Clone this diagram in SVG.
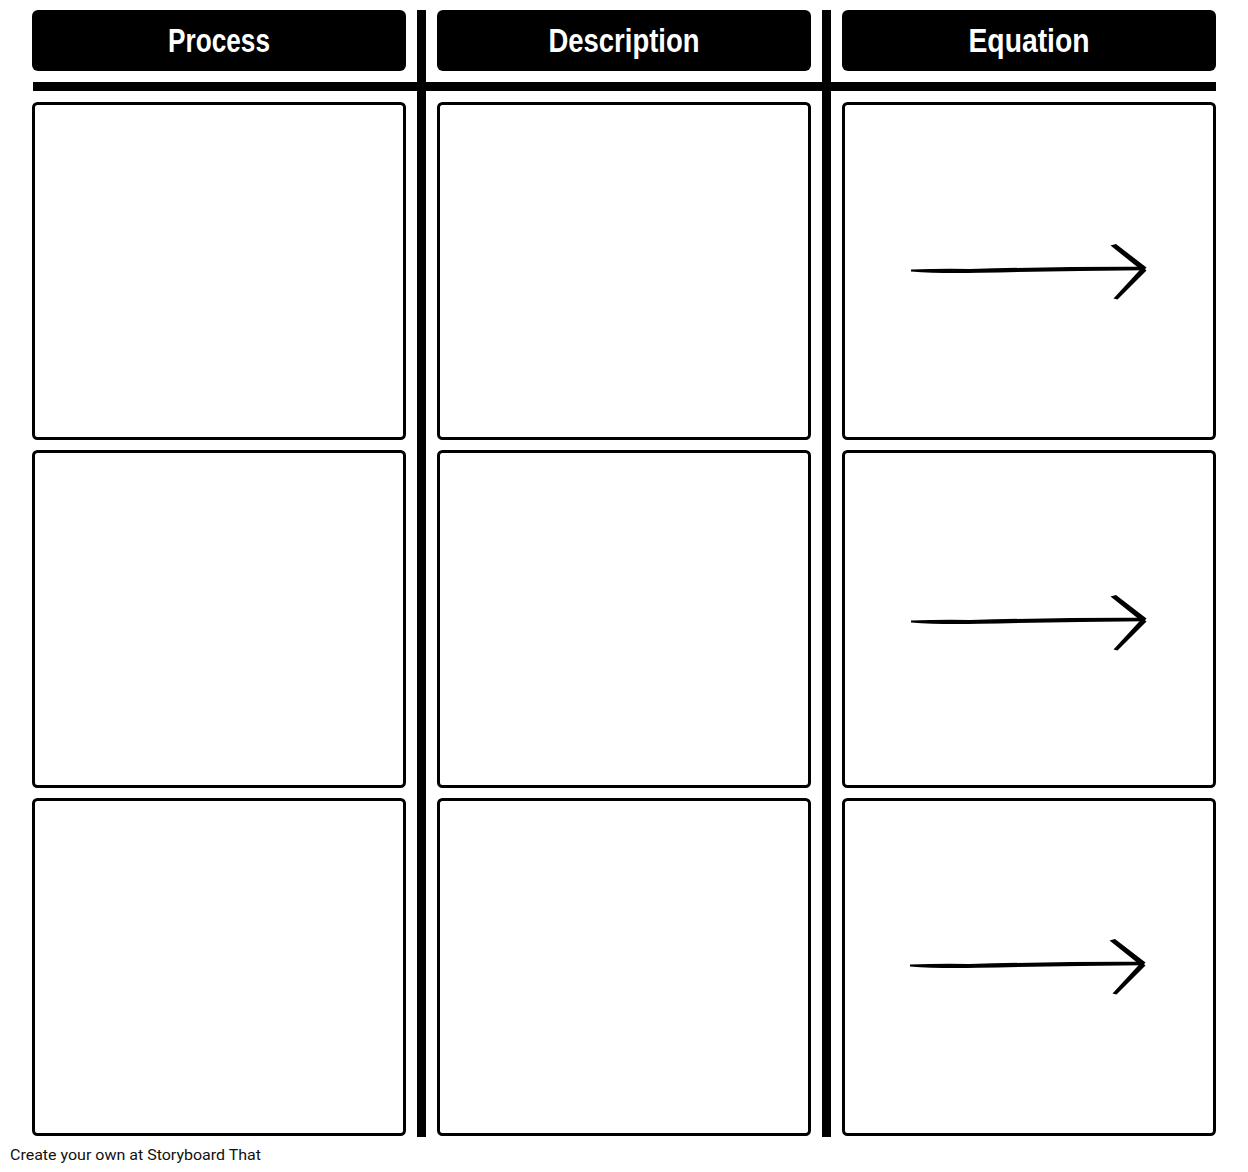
<svg xmlns="http://www.w3.org/2000/svg" width="1248" height="1172" viewBox="0 0 1248 1172">
<style>
.hdr{fill:#000}
.htxt{fill:#fff;font-family:"Liberation Sans",Arial,sans-serif;font-weight:bold;font-size:33px;text-anchor:middle}
.cell{fill:#fff;stroke:#000;stroke-width:3}
.bar{fill:#000}
.arr{fill:#000}
.foot{font-family:Roboto,"Liberation Sans",sans-serif;font-size:15.5px;fill:#111}
</style>
<rect width="1248" height="1172" fill="#fff"/>
<g id="bars">
<rect class="bar" x="33" y="82" width="1183" height="9"/>
<rect class="bar" x="417" y="10" width="9" height="1127"/>
<rect class="bar" x="822" y="10" width="9" height="1127"/>
</g>
<g id="header-process">
<rect class="hdr" x="32" y="10" width="374" height="61" rx="6"/>
<text class="htxt" x="219" y="52" textLength="102" lengthAdjust="spacingAndGlyphs">Process</text>
</g>
<g id="header-description">
<rect class="hdr" x="437" y="10" width="374" height="61" rx="6"/>
<text class="htxt" x="624" y="52" textLength="151" lengthAdjust="spacingAndGlyphs">Description</text>
</g>
<g id="header-equation">
<rect class="hdr" x="842" y="10" width="374" height="61" rx="6"/>
<text class="htxt" x="1029" y="52" textLength="121" lengthAdjust="spacingAndGlyphs">Equation</text>
</g>
<g id="cell-1-1"><rect class="cell" x="33.5" y="103.5" width="371" height="335" rx="4"/></g>
<g id="cell-1-2"><rect class="cell" x="438.5" y="103.5" width="371" height="335" rx="4"/></g>
<g id="cell-1-3"><rect class="cell" x="843.5" y="103.5" width="371" height="335" rx="4"/></g>
<g id="cell-2-1"><rect class="cell" x="33.5" y="451.5" width="371" height="335" rx="4"/></g>
<g id="cell-2-2"><rect class="cell" x="438.5" y="451.5" width="371" height="335" rx="4"/></g>
<g id="cell-2-3"><rect class="cell" x="843.5" y="451.5" width="371" height="335" rx="4"/></g>
<g id="cell-3-1"><rect class="cell" x="33.5" y="799.5" width="371" height="335" rx="4"/></g>
<g id="cell-3-2"><rect class="cell" x="438.5" y="799.5" width="371" height="335" rx="4"/></g>
<g id="cell-3-3"><rect class="cell" x="843.5" y="799.5" width="371" height="335" rx="4"/></g>
<defs>
<g id="brush-arrow">
<path class="arr" d="M911,269.5 Q940,268.5 970,269 Q1060,266.5 1143,266.8 L1145,270.2 Q1060,271 980,272.8 Q940,273.8 911,271.6 Z"/>
<path class="arr" d="M1110.5,245.5 L1116,244 L1146.5,267.5 L1143,271.5 Z"/>
<path class="arr" d="M1142.5,267 L1146.5,270.5 L1117.5,299.5 L1113.5,298.5 Z"/>
</g>
</defs>
<g id="connectors">
<use href="#brush-arrow"/>
<use href="#brush-arrow" transform="translate(0,351)"/>
<use href="#brush-arrow" transform="translate(-1,695)"/>
</g>
<text class="foot" x="10" y="1160" textLength="251" lengthAdjust="spacingAndGlyphs">Create your own at Storyboard That</text>
</svg>
